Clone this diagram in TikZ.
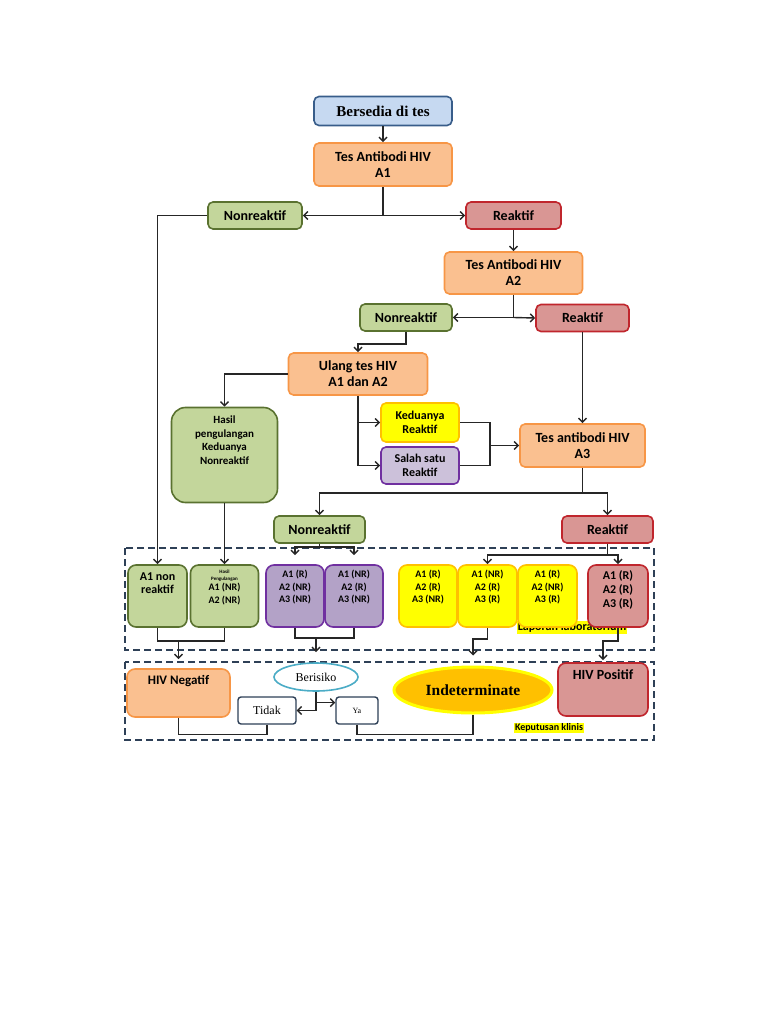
\documentclass[tikz,border=0pt]{standalone}
\usepackage{fontspec}
\setmainfont{Carlito}
\newfontfamily\serif{Liberation Serif}
\usetikzlibrary{positioning,shapes.geometric,arrows.meta}

\definecolor{bluefill}{HTML}{C6D9F1}
\definecolor{blueline}{HTML}{385D8A}
\definecolor{orfill}{HTML}{FAC090}
\definecolor{orline}{HTML}{F79646}
\definecolor{grfill}{HTML}{C3D69B}
\definecolor{grline}{HTML}{5A7230}
\definecolor{rdfill}{HTML}{D99694}
\definecolor{rdline}{HTML}{C0262D}
\definecolor{yefill}{HTML}{FFFF00}
\definecolor{yeline}{HTML}{FFC000}
\definecolor{lilac}{HTML}{CCC1DA}
\definecolor{purow}{HTML}{B3A2C7}
\definecolor{puline}{HTML}{7030A0}
\definecolor{gold}{HTML}{FFC000}
\definecolor{cyanline}{HTML}{4BACC6}
\definecolor{slate}{HTML}{2E4057}

\newcommand\fsz[2]{\fontsize{#1}{#2}\selectfont}

\tikzset{
  box/.style={draw, line width=1.6pt, rounded corners=5pt, align=center, inner sep=0pt, font=\bfseries\fsz{14}{16}},
  bluebox/.style={box, fill=bluefill, draw=blueline, font=\serif\bfseries\fsz{15}{17}},
  orangebox/.style={box, fill=orfill, draw=orline},
  greenbox/.style={box, fill=grfill, draw=grline},
  redbox/.style={box, fill=rdfill, draw=rdline},
  yellowbox/.style={box, fill=yefill, draw=yeline, font=\bfseries\fsz{12}{14}},
  lilacbox/.style={box, fill=lilac, draw=puline, font=\bfseries\fsz{12}{14}},
  rowbox/.style={box, rounded corners=8pt, minimum height=62pt},
  rowtext/.style={align=center, inner sep=0pt, font=\bfseries\fsz{10}{12.5}},
  line/.style={line width=1.4pt, draw=black!85},
  zone/.style={draw=slate, line width=1.8pt, dash pattern=on 7pt off 4pt},
  tag/.style={fill=yefill, inner sep=1pt, font=\bfseries\fsz{10}{12}},
  whitebox/.style={draw=slate, line width=1.4pt, rounded corners=3pt, fill=white, inner sep=0pt, font=\serif\fsz{12}{14}},
}

\begin{document}
\begin{tikzpicture}[x=1pt,y=-1pt,>={Straight Barb[length=4pt,width=8pt]}]
\useasboundingbox (0,0) rectangle (768,1024);

% top part
\node[bluebox, minimum width=138pt, minimum height=29pt] (bersedia) at (383,111) {Bersedia di tes};
\node[orangebox, minimum width=138pt, minimum height=43pt] (tesA1) at (383,164.5) {Tes Antibodi HIV\\A1};
\node[greenbox, minimum width=94pt, minimum height=27pt] (nr1) at (255,215.5) {Nonreaktif};
\node[redbox, minimum width=95pt, minimum height=27pt] (r1) at (513.5,215.5) {Reaktif};
\node[orangebox, minimum width=138pt, minimum height=42pt] (tesA2) at (513.5,273) {Tes Antibodi HIV\\A2};
\node[greenbox, minimum width=92pt, minimum height=27pt] (nr2) at (406,317.5) {Nonreaktif};
\node[redbox, minimum width=93pt, minimum height=27pt] (r2) at (582.5,318) {Reaktif};
\node[orangebox, minimum width=139pt, minimum height=42pt] (ulang) at (358,374) {Ulang tes HIV\\A1 dan A2};
\node[greenbox, rounded corners=14pt, minimum width=106pt, minimum height=95pt] (hasil) at (224.5,455) {};
\node[rowtext, font=\bfseries\fsz{11}{13.5}, below=9pt of hasil.north] (hasiltxt) {Hasil\\pengulangan\\Keduanya\\Nonreaktif};
\node[yellowbox, minimum width=78pt, minimum height=39pt] (keduanya) at (420,422.5) {Keduanya\\Reaktif};
\node[lilacbox, minimum width=78pt, minimum height=37pt] (salah) at (420,465.5) {Salah satu\\Reaktif};
\node[orangebox, minimum width=125pt, minimum height=43pt] (tesA3) at (582.5,445.5) {Tes antibodi HIV\\A3};
\node[greenbox, minimum width=91pt, minimum height=27pt] (nr3) at (319.5,529.5) {Nonreaktif};
\node[redbox, minimum width=91pt, minimum height=27pt] (r3) at (607.5,529.5) {Reaktif};

% zones
\draw[zone] (125,548) rectangle (654,650);
\draw[zone] (125,662) rectangle (654,740);
\node[tag, font=\bfseries\fsz{12}{14}] (laporan) at (572,627.5) {Laporan laboratorium};
\node[tag] (keputusan) at (549,728) {Keputusan klinis};

% result row
\node[greenbox, rowbox, minimum width=59pt] (g1) at (157.5,596) {};
\node[rowtext, font=\bfseries\fsz{12}{13}, below=8pt of g1.north] (g1txt) {A1 non\\reaktif};
\node[greenbox, rowbox, minimum width=68pt] (g2) at (224.5,596) {};
\node[rowtext, font=\bfseries\fsz{5}{7}, below=6pt of g2.north] (g2top) {Hasil\\Pengulangan};
\node[rowtext, below=1pt of g2top] (g2txt) {A1 (NR)\\A2 (NR)};
\node[box, rowbox, fill=purow, draw=puline, minimum width=58pt] (p1) at (295,596) {};
\node[rowtext, below=6pt of p1.north] (p1txt) {A1 (R)\\A2 (NR)\\A3 (NR)};
\node[box, rowbox, fill=purow, draw=puline, minimum width=58pt] (p2) at (354,596) {};
\node[rowtext, below=6pt of p2.north] (p2txt) {A1 (NR)\\A2 (R)\\A3 (NR)};
\node[box, rowbox, fill=yefill, draw=yeline, minimum width=58pt] (y1) at (428,596) {};
\node[rowtext, below=6pt of y1.north] (y1txt) {A1 (R)\\A2 (R)\\A3 (NR)};
\node[box, rowbox, fill=yefill, draw=yeline, minimum width=59pt] (y2) at (487.5,596) {};
\node[rowtext, below=6pt of y2.north] (y2txt) {A1 (NR)\\A2 (R)\\A3 (R)};
\node[box, rowbox, fill=yefill, draw=yeline, minimum width=59pt] (y3) at (547.5,596) {};
\node[rowtext, below=6pt of y3.north] (y3txt) {A1 (R)\\A2 (NR)\\A3 (R)};
\node[redbox, rowbox, minimum width=60pt] (red) at (618,596) {};
\node[rowtext, font=\bfseries\fsz{12}{14}, below=6pt of red.north] (redtxt) {A1 (R)\\A2 (R)\\A3 (R)};

% decision row
\node[box, rounded corners=8pt, fill=orfill, draw=orline, minimum width=103pt, minimum height=48pt] (hivneg) at (178.5,693) {};
\node[rowtext, font=\bfseries\fsz{13}{15}, below=7pt of hivneg.north] (hivnegtxt) {HIV Negatif};
\node[ellipse, draw=cyanline, line width=1.6pt, fill=white, minimum width=84pt, minimum height=28pt, inner sep=0pt, font=\serif\fsz{12}{14}] (berisiko) at (316,677) {Berisiko};
\node[whitebox, minimum width=58pt, minimum height=27pt] (tidak) at (267,710.5) {Tidak};
\node[whitebox, minimum width=42pt, minimum height=27pt, font=\serif\fsz{8}{10}] (ya) at (357,710.5) {Ya};
\node[ellipse, draw=yefill, line width=3pt, fill=gold, minimum width=158pt, minimum height=46pt, inner sep=0pt, font=\serif\bfseries\fsz{15.5}{17}] (indet) at (473,690) {Indeterminate};
\node[redbox, rounded corners=8pt, minimum width=90pt, minimum height=53pt] (hivpos) at (603,689.5) {};
\node[rowtext, font=\bfseries\fsz{14}{16}, below=7pt of hivpos.north] (hivpostxt) {HIV Positif};

% connectors
\draw[line,->] (bersedia) -- (tesA1);
\draw[line] (tesA1.south) -- (tesA1.south |- nr1.east) coordinate (j1);
\draw[line,->] (j1) -- (nr1.east);
\draw[line,->] (j1) -- (r1.west);
\draw[line,->] (nr1.west) -| (g1.north);
\draw[line,->] (r1) -- (tesA2);
\draw[line] (tesA2.south) -- (tesA2.south |- nr2.east) coordinate (j2);
\draw[line,->] (j2) -- (nr2.east);
\draw[line,->] (j2) -- (r2.west);
\draw[line,->] (nr2.south) -- ++(0,12) -| (ulang.north);
\draw[line,->] (ulang.west) -| (hasil.north);
\draw[line,->] (hasil.south) -- (g2.north);
\draw[line] (ulang.south) -- (ulang.south |- salah.west);
\draw[line,->] (ulang.south |- keduanya.west) -- (keduanya.west);
\draw[line,->] (ulang.south |- salah.west) -- (salah.west);
\draw[line] (keduanya.east) -- ++(30,0) coordinate (k1) |- (salah.east);
\draw[line,->] (k1 |- tesA3.west) -- (tesA3.west);
\draw[line,->] (r2) -- (tesA3);
\draw[line] (tesA3.south) -- ++(0,25) coordinate (j3);
\draw[line,->] (j3) -| (nr3.north);
\draw[line,->] (j3) -| (r3.north);
\draw[line] (nr3.south) -- ++(0,3) coordinate (j4);
\draw[line,->,shorten >=9pt] (j4) -| (p1.north);
\draw[line,->,shorten >=9pt] (j4) -| (p2.north);
\draw[line] (r3.south) -- ++(0,11) coordinate (j5);
\draw[line,->] (j5) -| (y2.north);
\draw[line,->] (j5) -| (red.north);
\draw[line] (g1.south) -- ++(0,13) coordinate (b1) -| (g2.south);
\draw[line,->,shorten >=9pt] (b1 -| hivneg.north) -- (hivneg.north);
\draw[line] (p1.south) -- ++(0,10) coordinate (b2) -| (p2.south);
\draw[line,->,shorten >=10pt] (b2 -| berisiko.north) -- (berisiko.north);
\draw[line,->,shorten >=10pt] (y2.south) -- ++(0,11) -| (indet.north);
\draw[line,->,shorten >=2pt] (red.south) -- ++(0,13) -| (hivpos.north);
\draw[line] (berisiko.south) -- (berisiko.south |- tidak.east) coordinate (j6);
\draw[line,->] (j6) -- (tidak.east);
\draw[line,->] (berisiko.south |- ya.160) -- (ya.160);
\draw[line] (tidak.south) -- ++(0,10) -| (hivneg.south);
\draw[line] (ya.south) -- ++(0,10) -| (indet.south);
\end{tikzpicture}
\end{document}
